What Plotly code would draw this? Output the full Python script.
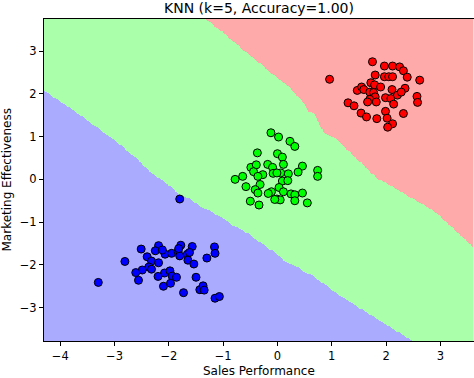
import numpy as np
import plotly.graph_objects as go

# ---- data ----
blue_x = [-1.80, -2.51, -2.19, -2.25, -2.40, -2.07, -1.95, -1.78, -1.83, -1.80, -1.66, -1.57,
          -1.62, -1.65, -1.54, -1.16, -1.15, -1.30, -2.81, -2.32, -2.19, -2.37, -2.49, -2.61,
          -2.32, -2.08, -1.98, -1.94, -1.86, -2.20, -2.56, -1.50, -3.30, -2.10, -1.97, -1.73,
          -1.43, -1.37, -1.35, -1.15, -1.07, -2.12, -1.82]
blue_y = [-0.46, -1.63, -1.55, -1.67, -1.81, -1.75, -1.73, -1.54, -1.69, -1.79, -1.75, -1.57,
          -1.71, -1.89, -1.98, -1.58, -1.73, -1.84, -1.92, -1.91, -1.95, -2.05, -2.12, -2.18,
          -2.10, -2.19, -2.14, -2.26, -2.29, -2.27, -2.36, -2.29, -2.41, -2.50, -2.43, -2.65,
          -2.58, -2.49, -2.59, -2.78, -2.74, -1.65, -1.62]

green_x = [-0.12, 0.02, 0.23, 0.32, -0.37, -0.00, 0.09, -0.49, -0.39, -0.18, -0.09, 0.11,
           0.46, 0.38, 0.74, 0.74, -0.44, -0.27, -0.36, -0.08, 0.06, 0.20, -0.01, -0.78,
           -0.64, -0.58, -0.32, 0.09, 0.19, -0.41, -0.36, -0.11, -0.17, 0.03, 0.11, 0.25,
           0.32, 0.46, -0.50, -0.34, -0.01, 0.05, 0.32, 0.55, -0.05]
green_y = [1.09, 0.99, 0.89, 0.77, 0.62, 0.60, 0.52, 0.28, 0.34, 0.35, 0.28, 0.35,
           0.31, 0.17, 0.21, 0.07, 0.18, 0.11, 0.07, 0.14, 0.15, 0.13, 0.15, -0.00,
           0.07, -0.17, -0.12, -0.04, -0.03, -0.24, -0.32, -0.29, -0.33, -0.19, -0.29, -0.34,
           -0.36, -0.32, -0.51, -0.60, -0.46, -0.48, -0.50, -0.55, -0.47]

red_x = [0.96, 1.75, 1.97, 2.12, 2.25, 2.32, 1.80, 1.97, 2.05, 2.12, 2.39, 2.62,
         1.30, 1.41, 1.47, 1.55, 1.59, 1.72, 1.79, 1.90, 1.70, 1.77, 1.80, 1.70,
         1.66, 1.82, 1.99, 2.09, 2.11, 2.21, 2.35, 2.14, 1.54, 1.64, 1.83, 1.99,
         2.02, 2.12, 2.03, 2.32, 2.57, 2.58, 2.28]
red_y = [2.34, 2.75, 2.65, 2.65, 2.63, 2.54, 2.44, 2.40, 2.40, 2.40, 2.39, 2.32,
         1.79, 1.72, 2.08, 2.16, 2.10, 2.26, 2.21, 2.16, 2.04, 2.03, 1.93, 1.87,
         1.81, 1.81, 1.91, 1.89, 2.10, 1.97, 2.13, 1.76, 1.55, 1.46, 1.42, 1.59,
         1.43, 1.30, 1.22, 1.54, 1.94, 1.80, 2.04]

class_names = ["blue", "green", "red"]
point_colors = ["#0000FF", "#00FF00", "#FF0000"]
region_colors = ["#AAAAFF", "#AAFFAA", "#FFAAAA"]
k_neighbors = 5
title_text = "KNN (k=5, Accuracy=1.00)"
x_label = "Sales Performance"
y_label = "Marketing Effectiveness"
x_ticks = [-4, -3, -2, -1, 0, 1, 2, 3]
y_ticks = [-3, -2, -1, 0, 1, 2, 3]

# ---- KNN decision surface computed from the points ----
X = np.array([blue_x + green_x + red_x, blue_y + green_y + red_y]).T
labels = np.array([0] * len(blue_x) + [1] * len(green_x) + [2] * len(red_x))
x_min, x_max = X[:, 0].min() - 1, X[:, 0].max() + 1
y_min, y_max = X[:, 1].min() - 1, X[:, 1].max() + 1
h = 0.02
gx = np.arange(x_min, x_max, h)
gy = np.arange(y_min, y_max, h)
xx, yy = np.meshgrid(gx, gy)
grid = np.c_[xx.ravel(), yy.ravel()]
pred = np.empty(len(grid), dtype=int)
chunk = 20000
for s in range(0, len(grid), chunk):
    g = grid[s:s + chunk]
    d = ((g[:, None, :] - X[None, :, :]) ** 2).sum(-1)
    idx = np.argpartition(d, k_neighbors, axis=1)[:, :k_neighbors]
    votes = labels[idx]
    counts = np.stack([(votes == c).sum(1) for c in range(3)], axis=1)
    pred[s:s + chunk] = counts.argmax(1)
Z = pred.reshape(xx.shape)

cs = [[0, region_colors[0]], [1/3, region_colors[0]], [1/3, region_colors[1]],
      [2/3, region_colors[1]], [2/3, region_colors[2]], [1, region_colors[2]]]

fig = go.Figure()
fig.add_trace(go.Heatmap(x=gx, y=gy, z=Z, zmin=0, zmax=2, colorscale=cs,
                         showscale=False, hoverinfo="skip"))
for xs, ys, col in [(blue_x, blue_y, point_colors[0]), (green_x, green_y, point_colors[1]),
                    (red_x, red_y, point_colors[2])]:
    fig.add_trace(go.Scatter(x=xs, y=ys, mode="markers",
                             marker=dict(size=8, color=col, line=dict(color="black", width=1)),
                             showlegend=False))

font = dict(family="DejaVu Sans", color="black")
axis_common = dict(showgrid=False, zeroline=False, showline=True, mirror=True,
                   linecolor="black", linewidth=1, ticks="outside", ticklen=4,
                   tickwidth=1, tickcolor="black", tickfont=dict(size=11.5, **font))
fig.update_xaxes(range=[x_min, x_max], tickvals=x_ticks, **axis_common)
fig.update_yaxes(range=[y_min, y_max], tickvals=y_ticks, **axis_common)

fig.update_layout(
    width=474, height=378,
    margin=dict(l=44, r=0, t=19, b=37),
    paper_bgcolor="white", plot_bgcolor="white",
    showlegend=False,
    title=dict(text=title_text, x=0.5, xref="paper", xanchor="center",
               y=1 - 8 / 378, yref="container", yanchor="middle",
               font=dict(size=14, **font)),
    annotations=[
        dict(text=x_label, xref="paper", yref="paper", x=0.5, y=0, xanchor="center",
             yanchor="middle", yshift=-30, showarrow=False, font=dict(size=12, **font)),
        dict(text=y_label, xref="paper", yref="paper", x=0, y=0.5, xanchor="center",
             yanchor="middle", xshift=-37.5, textangle=-90, showarrow=False,
             font=dict(size=12, **font)),
    ],
)
fig.write_html("out.html", config={"displayModeBar": False},
               post_script="document.body.style.margin='0';document.body.style.overflow='hidden';")
